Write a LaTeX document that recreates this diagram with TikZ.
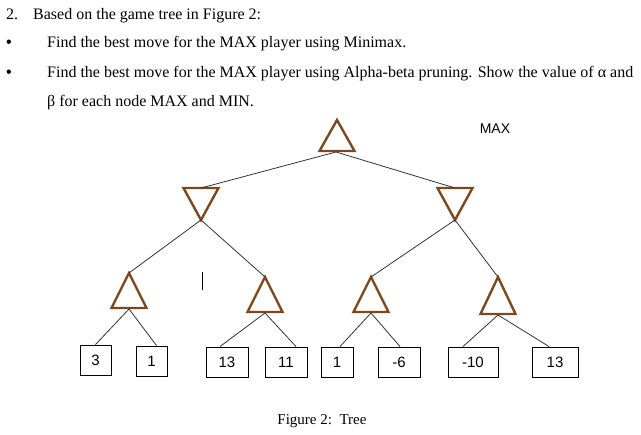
\documentclass[tikz,border=0pt]{standalone}
\usepackage{fontspec}
\setmainfont{Liberation Serif}
\newfontfamily\sansf{Liberation Sans}
\begin{document}
\begin{tikzpicture}[x=1pt,y=-1pt,
  tri/.style={draw={rgb,255:red,125;green,72;blue,30},line width=2.4pt,line join=miter},
  edge/.style={draw=black!80,line width=0.8pt},
  leaf/.style={draw,line width=0.9pt,minimum height=30pt,font=\sansf\fontsize{15}{16}\selectfont},
  hd/.style={anchor=base west,font=\fontsize{16}{18}\selectfont,inner sep=0}]
\useasboundingbox (0,0) rectangle (641,435);
% header text
\node[hd] (h1) at (6,20) {2.};
\node[hd] (h1b) at (33,20) {Based on the game tree in Figure 2:};
\node[hd] (b1) at (6,48) {\textbf{•}};
\node[hd] (h2) at (47,48) {Find the best move for the MAX player using Minimax.};
\node[hd] (b2) at (6,78) {\textbf{•}};
\node[hd] (h3) at (47,78) {Find the best move for the MAX player using Alpha-beta pruning. Show the value of α and};
\node[hd] (h4) at (47,107) {β for each node MAX and MIN.};
\node[font=\sansf\fontsize{14}{15}\selectfont] (maxl) at (495,129) {MAX};
% triangles (MAX up, MIN down)
\newcommand\upT[3]{\draw[tri] (#1-17.5,#3) -- (#1,#2) -- (#1+17.5,#3) -- cycle;}
\newcommand\dnT[3]{\draw[tri] (#1-17.5,#2) -- (#1,#3) -- (#1+17.5,#2) -- cycle;}
\coordinate (rB) at (336,152); \upT{337}{120}{151}
\coordinate (aT) at (201,188); \coordinate (aB) at (201,220); \dnT{201}{188}{220}
\coordinate (bT) at (455,188); \coordinate (bB) at (455,220); \dnT{455}{188}{220}
\coordinate (cT) at (129,273); \coordinate (cB) at (129,309); \upT{129}{273}{308}
\coordinate (dT) at (265,277); \coordinate (dB) at (265,313); \upT{265}{277}{312}
\coordinate (eT) at (371,277); \coordinate (eB) at (371,313); \upT{371}{277}{312}
\coordinate (fT) at (498,277); \coordinate (fB) at (498,315); \upT{498}{277}{314}
% leaves
\node[leaf,minimum width=31pt] (l1) at (95.5,360) {3};
\node[leaf,minimum width=31pt] (l2) at (151.5,361) {1};
\node[leaf,minimum width=42pt] (l3) at (227,362) {13};
\node[leaf,minimum width=42pt] (l4) at (286,362) {11};
\node[leaf,minimum width=32pt] (l5) at (337,362) {1};
\node[leaf,minimum width=42pt] (l6) at (399,362) {-6};
\node[leaf,minimum width=50pt] (l7) at (473,362) {-10};
\node[leaf,minimum width=46pt] (l8) at (555,362) {13};
% edges
\draw[edge] (rB) -- (aT); \draw[edge] (rB) -- (bT);
\draw[edge] (aB) -- (cT); \draw[edge] (aB) -- (dT);
\draw[edge] (bB) -- (eT); \draw[edge] (bB) -- (fT);
\draw[edge] (cB) -- (l1.north); \draw[edge] (cB) -- ([xshift=5pt]l2.north);
\draw[edge] (dB) -- ([xshift=-7pt]l3.north); \draw[edge] (dB) -- ([xshift=10pt]l4.north);
\draw[edge] (eB) -- ([xshift=3pt]l5.north); \draw[edge] (eB) -- ([xshift=1pt]l6.north);
\draw[edge] (fB) -- ([xshift=-10pt]l7.north); \draw[edge] (fB) -- ([xshift=-6pt]l8.north);
\coordinate (m1) at (202,272); \coordinate (m2) at (202,290);
\draw[line width=0.9pt] (m1) -- (m2);
\node[font=\fontsize{15}{17}\selectfont] (cap) at (322,421) {Figure 2:\ \ Tree};
\end{tikzpicture}
\end{document}
